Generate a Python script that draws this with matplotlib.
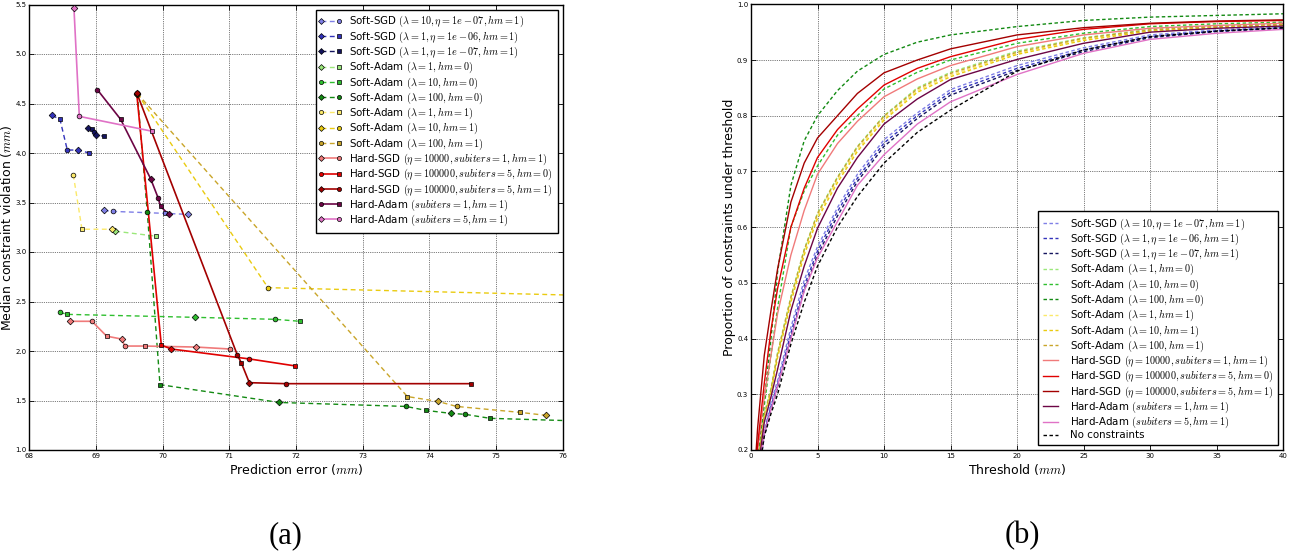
import numpy as np
import matplotlib
matplotlib.use('Agg')
import matplotlib.pyplot as plt
from matplotlib.lines import Line2D
from matplotlib.legend_handler import HandlerBase

plt.rcParams.update({
    'font.family': ['DejaVu Sans'],
    'mathtext.fontset': 'cm',
    'xtick.direction': 'in', 'ytick.direction': 'in',
    'xtick.top': True, 'ytick.right': True,
    'xtick.major.size': 3.5, 'ytick.major.size': 3.5,
    'xtick.major.width': 0.6, 'ytick.major.width': 0.6,
    'axes.linewidth': 1.0,
})

# ---------------- labels ----------------
labels = [
    r'Soft-SGD $(\lambda=10, \eta=1e-07, hm=1)$',
    r'Soft-SGD $(\lambda=1, \eta=1e-06, hm=1)$',
    r'Soft-SGD $(\lambda=1, \eta=1e-07, hm=1)$',
    r'Soft-Adam $(\lambda=1, hm=0)$',
    r'Soft-Adam $(\lambda=10, hm=0)$',
    r'Soft-Adam $(\lambda=100, hm=0)$',
    r'Soft-Adam $(\lambda=1, hm=1)$',
    r'Soft-Adam $(\lambda=10, hm=1)$',
    r'Soft-Adam $(\lambda=100, hm=1)$',
    r'Hard-SGD $(\eta=10000, subiters=1, hm=1)$',
    r'Hard-SGD $(\eta=100000, subiters=5, hm=0)$',
    r'Hard-SGD $(\eta=100000, subiters=5, hm=1)$',
    r'Hard-Adam $(subiters=1, hm=1)$',
    r'Hard-Adam $(subiters=5, hm=1)$',
]
label_none = 'No constraints'

# ---------------- (a) prediction error vs median violation ----------------
soft_sgd_l10_e7_x = [69.12, 69.26, 70.04, 70.38]
soft_sgd_l10_e7_y = [3.42, 3.41, 3.39, 3.38]
soft_sgd_l1_e6_x = [68.34, 68.46, 68.57, 68.73, 68.90]
soft_sgd_l1_e6_y = [4.38, 4.34, 4.03, 4.03, 4.00]
soft_sgd_l1_e7_x = [68.88, 68.94, 68.97, 69.00, 69.12]
soft_sgd_l1_e7_y = [4.25, 4.24, 4.21, 4.18, 4.17]
soft_adam_l1_hm0_x = [69.29, 69.90]
soft_adam_l1_hm0_y = [3.21, 3.16]
soft_adam_l10_hm0_x = [68.46, 68.57, 70.49, 71.69, 72.06]
soft_adam_l10_hm0_y = [2.39, 2.37, 2.34, 2.32, 2.30]
soft_adam_l100_hm0_x = [69.62, 69.77, 69.96, 71.75, 73.65, 73.95, 74.32, 74.54, 74.91, 76.40]
soft_adam_l100_hm0_y = [4.60, 3.40, 1.66, 1.48, 1.44, 1.40, 1.37, 1.36, 1.32, 1.29]
soft_adam_l1_hm1_x = [68.66, 68.79, 69.24]
soft_adam_l1_hm1_y = [3.78, 3.23, 3.23]
soft_adam_l10_hm1_x = [69.62, 71.58, 77.00]
soft_adam_l10_hm1_y = [4.60, 2.64, 2.55]
soft_adam_l100_hm1_x = [69.62, 73.67, 74.13, 74.41, 75.36, 75.75]
soft_adam_l100_hm1_y = [4.60, 1.54, 1.49, 1.44, 1.38, 1.35]
hard_sgd_1e4_x = [68.61, 68.94, 69.16, 69.39, 69.43, 69.73, 70.50, 71.01]
hard_sgd_1e4_y = [2.30, 2.30, 2.15, 2.12, 2.05, 2.05, 2.04, 2.02]
hard_sgd_1e5_hm0_x = [69.61, 69.98, 70.13, 71.30, 71.98]
hard_sgd_1e5_hm0_y = [4.61, 2.06, 2.02, 1.92, 1.85]
hard_sgd_1e5_hm1_x = [69.61, 71.12, 71.18, 71.30, 71.85, 74.62]
hard_sgd_1e5_hm1_y = [4.61, 1.96, 1.88, 1.68, 1.67, 1.67]
hard_adam_s1_x = [69.02, 69.37, 69.82, 69.93, 69.97, 70.09]
hard_adam_s1_y = [4.64, 4.34, 3.74, 3.55, 3.46, 3.38]
hard_adam_s5_x = [68.67, 68.75, 69.84]
hard_adam_s5_y = [5.46, 4.37, 4.22]

left_x = [soft_sgd_l10_e7_x, soft_sgd_l1_e6_x, soft_sgd_l1_e7_x,
          soft_adam_l1_hm0_x, soft_adam_l10_hm0_x, soft_adam_l100_hm0_x,
          soft_adam_l1_hm1_x, soft_adam_l10_hm1_x, soft_adam_l100_hm1_x,
          hard_sgd_1e4_x, hard_sgd_1e5_hm0_x, hard_sgd_1e5_hm1_x,
          hard_adam_s1_x, hard_adam_s5_x]
left_y = [soft_sgd_l10_e7_y, soft_sgd_l1_e6_y, soft_sgd_l1_e7_y,
          soft_adam_l1_hm0_y, soft_adam_l10_hm0_y, soft_adam_l100_hm0_y,
          soft_adam_l1_hm1_y, soft_adam_l10_hm1_y, soft_adam_l100_hm1_y,
          hard_sgd_1e4_y, hard_sgd_1e5_hm0_y, hard_sgd_1e5_hm1_y,
          hard_adam_s1_y, hard_adam_s5_y]

# ---------------- (b) cumulative proportion under threshold ----------------
thresholds = [0.25, 0.5, 1, 1.5, 2, 3, 4, 5, 6.5, 8, 10, 12.5, 15, 20, 25, 30, 35, 40]
cdf_soft_sgd_l10_e7 = [.080, .150, .235, .285, .325, .420, .505, .565, .635, .695, .757, .805, .847, .890, .922, .945, .954, .960]
cdf_soft_sgd_l1_e6 = [.075, .145, .230, .278, .318, .410, .495, .557, .628, .688, .751, .800, .842, .885, .918, .942, .952, .958]
cdf_soft_sgd_l1_e7 = [.072, .140, .225, .272, .312, .402, .487, .550, .620, .682, .745, .795, .837, .881, .915, .940, .951, .957]
cdf_soft_adam_l1_hm0 = [.105, .175, .265, .310, .375, .475, .560, .625, .690, .745, .800, .850, .878, .916, .940, .955, .961, .965]
cdf_soft_adam_l10_hm0 = [.100, .180, .280, .370, .455, .600, .665, .710, .765, .800, .848, .878, .900, .930, .948, .960, .965, .968]
cdf_soft_adam_l100_hm0 = [.100, .180, .290, .400, .520, .675, .755, .800, .845, .880, .910, .932, .945, .960, .971, .977, .980, .983]
cdf_soft_adam_l1_hm1 = [.100, .170, .260, .305, .370, .470, .555, .620, .685, .740, .795, .845, .873, .912, .937, .953, .959, .963]
cdf_soft_adam_l10_hm1 = [.098, .168, .257, .302, .366, .465, .550, .615, .680, .736, .792, .842, .870, .910, .935, .952, .958, .962]
cdf_soft_adam_l100_hm1 = [.103, .173, .263, .309, .373, .474, .559, .624, .689, .744, .799, .848, .876, .914, .939, .954, .960, .964]
cdf_hard_sgd_1e4 = [.120, .200, .295, .370, .445, .550, .630, .695, .750, .790, .834, .866, .890, .924, .945, .957, .962, .966]
cdf_hard_sgd_1e5_hm0 = [.130, .210, .320, .415, .490, .600, .670, .725, .775, .812, .855, .885, .906, .937, .955, .965, .969, .971]
cdf_hard_sgd_1e5_hm1 = [.150, .240, .370, .450, .525, .645, .715, .760, .800, .840, .877, .900, .920, .945, .958, .966, .970, .972]
cdf_hard_adam_s1 = [.090, .160, .250, .295, .345, .450, .530, .598, .670, .725, .785, .830, .865, .901, .930, .950, .957, .961]
cdf_hard_adam_s5 = [.070, .150, .230, .272, .315, .400, .485, .545, .610, .675, .730, .785, .825, .874, .912, .937, .948, .955]
cdf_no_constraints = [.060, .150, .225, .265, .300, .390, .465, .530, .600, .655, .715, .770, .810, .880, .918, .942, .952, .958]

right_series = [cdf_soft_sgd_l10_e7, cdf_soft_sgd_l1_e6, cdf_soft_sgd_l1_e7,
                cdf_soft_adam_l1_hm0, cdf_soft_adam_l10_hm0, cdf_soft_adam_l100_hm0,
                cdf_soft_adam_l1_hm1, cdf_soft_adam_l10_hm1, cdf_soft_adam_l100_hm1,
                cdf_hard_sgd_1e4, cdf_hard_sgd_1e5_hm0, cdf_hard_sgd_1e5_hm1,
                cdf_hard_adam_s1, cdf_hard_adam_s5, cdf_no_constraints]

# ---------------- styles ----------------
colors = ['#7f7fe6', '#3333bb', '#14145e',
          '#9be87a', '#2fbf2f', '#138a13',
          '#fbe96a', '#eacb10', '#c9a52a',
          '#f07a7a', '#e00000', '#a30000',
          '#6c0545', '#e072c6']
dashed = [True] * 9 + [False] * 5
leg_markers = [('D', 'o'), ('D', 's'), ('D', 's'), ('D', 's'), ('o', 's'), ('D', 'o'), ('o', 's'),
               ('D', 'o'), ('o', 's'), ('D', 'o'), ('o', 's'), ('D', 'o'), ('o', 's'), ('D', 'o')]


class PairHandler(HandlerBase):
    def __init__(self, m1, m2):
        super().__init__()
        self.m1, self.m2 = m1, m2

    def create_artists(self, legend, orig, xdescent, ydescent, width, height, fontsize, trans):
        y = height / 2.0 - ydescent
        x0, x1 = -xdescent, width - xdescent
        ln = Line2D([x0, x1], [y, y])
        ln.update_from(orig)
        ln.set_marker('None')
        arts = [ln]
        for xm, m in ((x0, self.m1), (x1, self.m2)):
            arts.append(Line2D([xm], [y], linestyle='None', marker=m, markersize=3.0,
                               markerfacecolor=orig.get_color(), markeredgecolor='k',
                               markeredgewidth=0.5))
        for a in arts:
            a.set_transform(trans)
        return arts


fig = plt.figure(figsize=(12.9, 5.53), dpi=100)
ax1 = fig.add_axes([29.3 / 1290, 103 / 553, 533.4 / 1290, 445.5 / 553])
ax2 = fig.add_axes([751 / 1290, 103 / 553, 532 / 1290, 445.7 / 553])

# ----- left -----
handles = []
hmap = {}
for i in range(14):
    kw = dict(color=colors[i], lw=1.0 if dashed[i] else 1.2, zorder=2)
    if dashed[i]:
        kw['dashes'] = (3.5, 2.5)
    ln, = ax1.plot(left_x[i], left_y[i], label=labels[i], **kw)
    m1, m2 = leg_markers[i]
    third = [m for m in ('D', 'o', 's') if m not in (m1, m2)][0]
    cyc = [m1, m2, third]
    for j, (xv, yv) in enumerate(zip(left_x[i], left_y[i])):
        ax1.plot([xv], [yv], ls='None', marker=cyc[j % 3], ms=3.4,
                 mfc=colors[i], mec='k', mew=0.5, zorder=3)
    handles.append(ln)
    hmap[ln] = PairHandler(m1, m2)

ax1.set_xlim(68, 76)
ax1.set_ylim(1.0, 5.5)
ax1.set_xticks(range(68, 77))
ax1.set_yticks(np.arange(1.0, 5.51, 0.5))
ax1.set_yticklabels(['%.1f' % v for v in np.arange(1.0, 5.51, 0.5)])
ax1.tick_params(labelsize=5, pad=2)
ax1.grid(True, color='k', linestyle=':', linewidth=0.5)
ax1.set_xlabel('Prediction error ($mm$)', fontsize=9, labelpad=2)
ax1.set_ylabel('Median constraint violation ($mm$)', fontsize=9, labelpad=1)
leg1 = ax1.legend(handles=handles, labels=labels, handler_map=hmap, loc='upper right',
                  fontsize=7.35, handlelength=1.8, handletextpad=1.0, labelspacing=0.0,
                  borderpad=0.45, borderaxespad=0.5, fancybox=False, framealpha=1,
                  edgecolor='k')
leg1.get_frame().set_linewidth(1.0)

# ----- right -----
rcolors = colors + ['k']
rdashed = dashed + [True]
rlabels = labels + [label_none]
for i, vals in enumerate(right_series):
    kw = dict(color=rcolors[i], lw=1.0, label=rlabels[i])
    if rdashed[i]:
        kw['dashes'] = (2.5, 1.8)
    ax2.plot(thresholds, vals, **kw)
ax2.set_xlim(0, 40)
ax2.set_ylim(0.2, 1.0)
ax2.set_xticks(range(0, 41, 5))
ax2.set_yticks(np.arange(0.2, 1.001, 0.1))
ax2.set_yticklabels(['%.1f' % v for v in np.arange(0.2, 1.001, 0.1)])
ax2.tick_params(labelsize=5, pad=2)
ax2.grid(True, color='k', linestyle=':', linewidth=0.5)
ax2.set_xlabel('Threshold ($mm$)', fontsize=9, labelpad=2)
ax2.set_ylabel('Proportion of constraints under threshold', fontsize=9, labelpad=1)
leg2 = ax2.legend(loc='lower right', fontsize=7.35, handlelength=1.5, handletextpad=1.1,
                  labelspacing=0.0, borderpad=0.5, borderaxespad=0.45, fancybox=False,
                  framealpha=1, edgecolor='k')
leg2.get_frame().set_linewidth(1.0)

fig.text(286 / 1290, 1 - 536 / 553, '(a)', family='Liberation Serif', fontsize=22,
         ha='center', va='center')
fig.text(1022 / 1290, 1 - 536 / 553, '(b)', family='Liberation Serif', fontsize=22,
         ha='center', va='center')

fig.savefig('out.png', dpi=100)
